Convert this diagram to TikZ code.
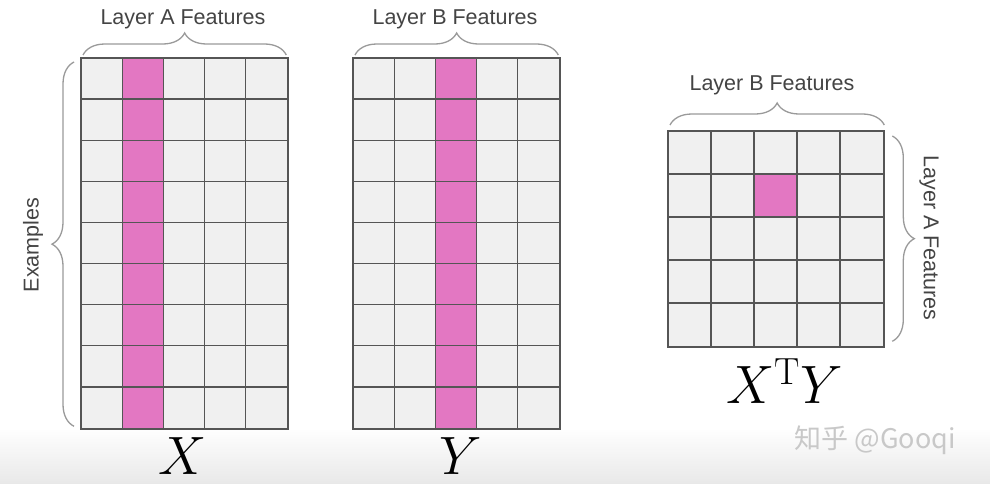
\RequirePackage{fix-cm}
\documentclass[tikz,border=0pt]{standalone}
\usepackage{fontspec}
\newfontfamily\labelfont{Liberation Sans}
\newfontfamily\cjkfont{Noto Sans CJK SC}
\usetikzlibrary{decorations.pathreplacing,calc}
\definecolor{cellgray}{HTML}{F0F0F0}
\definecolor{gridline}{HTML}{555555}
\definecolor{pinkc}{HTML}{E377C2}
\definecolor{braceg}{HTML}{9A9A9A}
\definecolor{textg}{HTML}{444444}
\definecolor{wmark}{HTML}{C8C8C8}
\begin{document}
\begin{tikzpicture}[x=1pt,y=-1pt,
  gridbox/.style={draw=gridline, line width=1.3pt, fill=cellgray, inner sep=0pt, anchor=north west},
  gline/.style={draw=gridline, line width=1.3pt},
  hot/.style={fill=pinkc},
  bracegray/.style={draw=braceg, line width=1.3pt, decorate, decoration={brace, amplitude=22pt}},
  lab/.style={font=\labelfont\fontsize{21.5}{21.5}\selectfont, text=textg, inner sep=0pt},
  mathlab/.style={font=\fontsize{54}{54}\selectfont, inner sep=0pt},
  wm/.style={font=\cjkfont\fontsize{27}{27}\selectfont, text=wmark, inner sep=0pt}]
% background
\fill[white] (0,0) rectangle (990,484);
\shade[top color=white, bottom color=black!9] (0,428) rectangle (990,484);
\useasboundingbox (0,0) rectangle (990,484);

% grid X
\node[gridbox, minimum width=206pt, minimum height=370pt] (gx) at (81,58) {};
\fill[hot] (122.2,58) rectangle (163.4,428);
\foreach \i in {1,...,4} \draw[gline] ({81+\i*41.2},58) -- ({81+\i*41.2},428);
\foreach \j in {1,...,8} \draw[gline] (81,{58+\j*41.111}) -- (287,{58+\j*41.111});
\draw[gline] (gx.north west) rectangle (gx.south east);

% grid Y
\node[gridbox, minimum width=206pt, minimum height=370pt] (gy) at (353,58) {};
\fill[hot] (435.4,58) rectangle (476.6,428);
\foreach \i in {1,...,4} \draw[gline] ({353+\i*41.2},58) -- ({353+\i*41.2},428);
\foreach \j in {1,...,8} \draw[gline] (353,{58+\j*41.111}) -- (559,{58+\j*41.111});
\draw[gline] (gy.north west) rectangle (gy.south east);

% grid XTY
\node[gridbox, minimum width=215pt, minimum height=215pt] (gz) at (668,131) {};
\fill[hot] (754,174) rectangle (797,217);
\foreach \i in {1,...,4} \draw[gline] ({668+\i*43},131) -- ({668+\i*43},346);
\foreach \j in {1,...,4} \draw[gline] (668,{131+\j*43}) -- (883,{131+\j*43});
\draw[gline] (gz.north west) rectangle (gz.south east);

% braces
\draw[bracegray] ([xshift=2pt,yshift=3pt]gx.north west) -- ([xshift=-2pt,yshift=3pt]gx.north east);
\draw[bracegray] ([xshift=2pt,yshift=3pt]gy.north west) -- ([xshift=-2pt,yshift=3pt]gy.north east);
\draw[bracegray] ([xshift=2pt,yshift=6pt]gz.north west) -- ([xshift=0pt,yshift=6pt]gz.north east);
\draw[bracegray] ([xshift=-7pt,yshift=3pt]gx.south west) -- ([xshift=-7pt,yshift=-4pt]gx.north west);
\draw[bracegray] ([xshift=8pt,yshift=-5pt]gz.north east) -- ([xshift=8pt,yshift=6pt]gz.south east);

% labels
\node[lab] (la) at (183,19) {Layer A Features};
\node[lab] (lb) at (455,19) {Layer B Features};
\node[lab] (lc) at (772,85) {Layer B Features};
\node[lab, rotate=90] (le) at (33,245) {Examples};
\node[lab, rotate=-90] (ld) at (929,238) {Layer A Features};

% math labels
\node[mathlab] (mx) at (183,456) {$X$};
\node[mathlab] (my) at (461,456) {$Y$};
\node[mathlab] (mz) at (785,381) {$X^{\mathrm{T}}Y$};

% watermark
\node[wm] (w) at (875,440) {知乎 @Gooqi};
\end{tikzpicture}
\end{document}
